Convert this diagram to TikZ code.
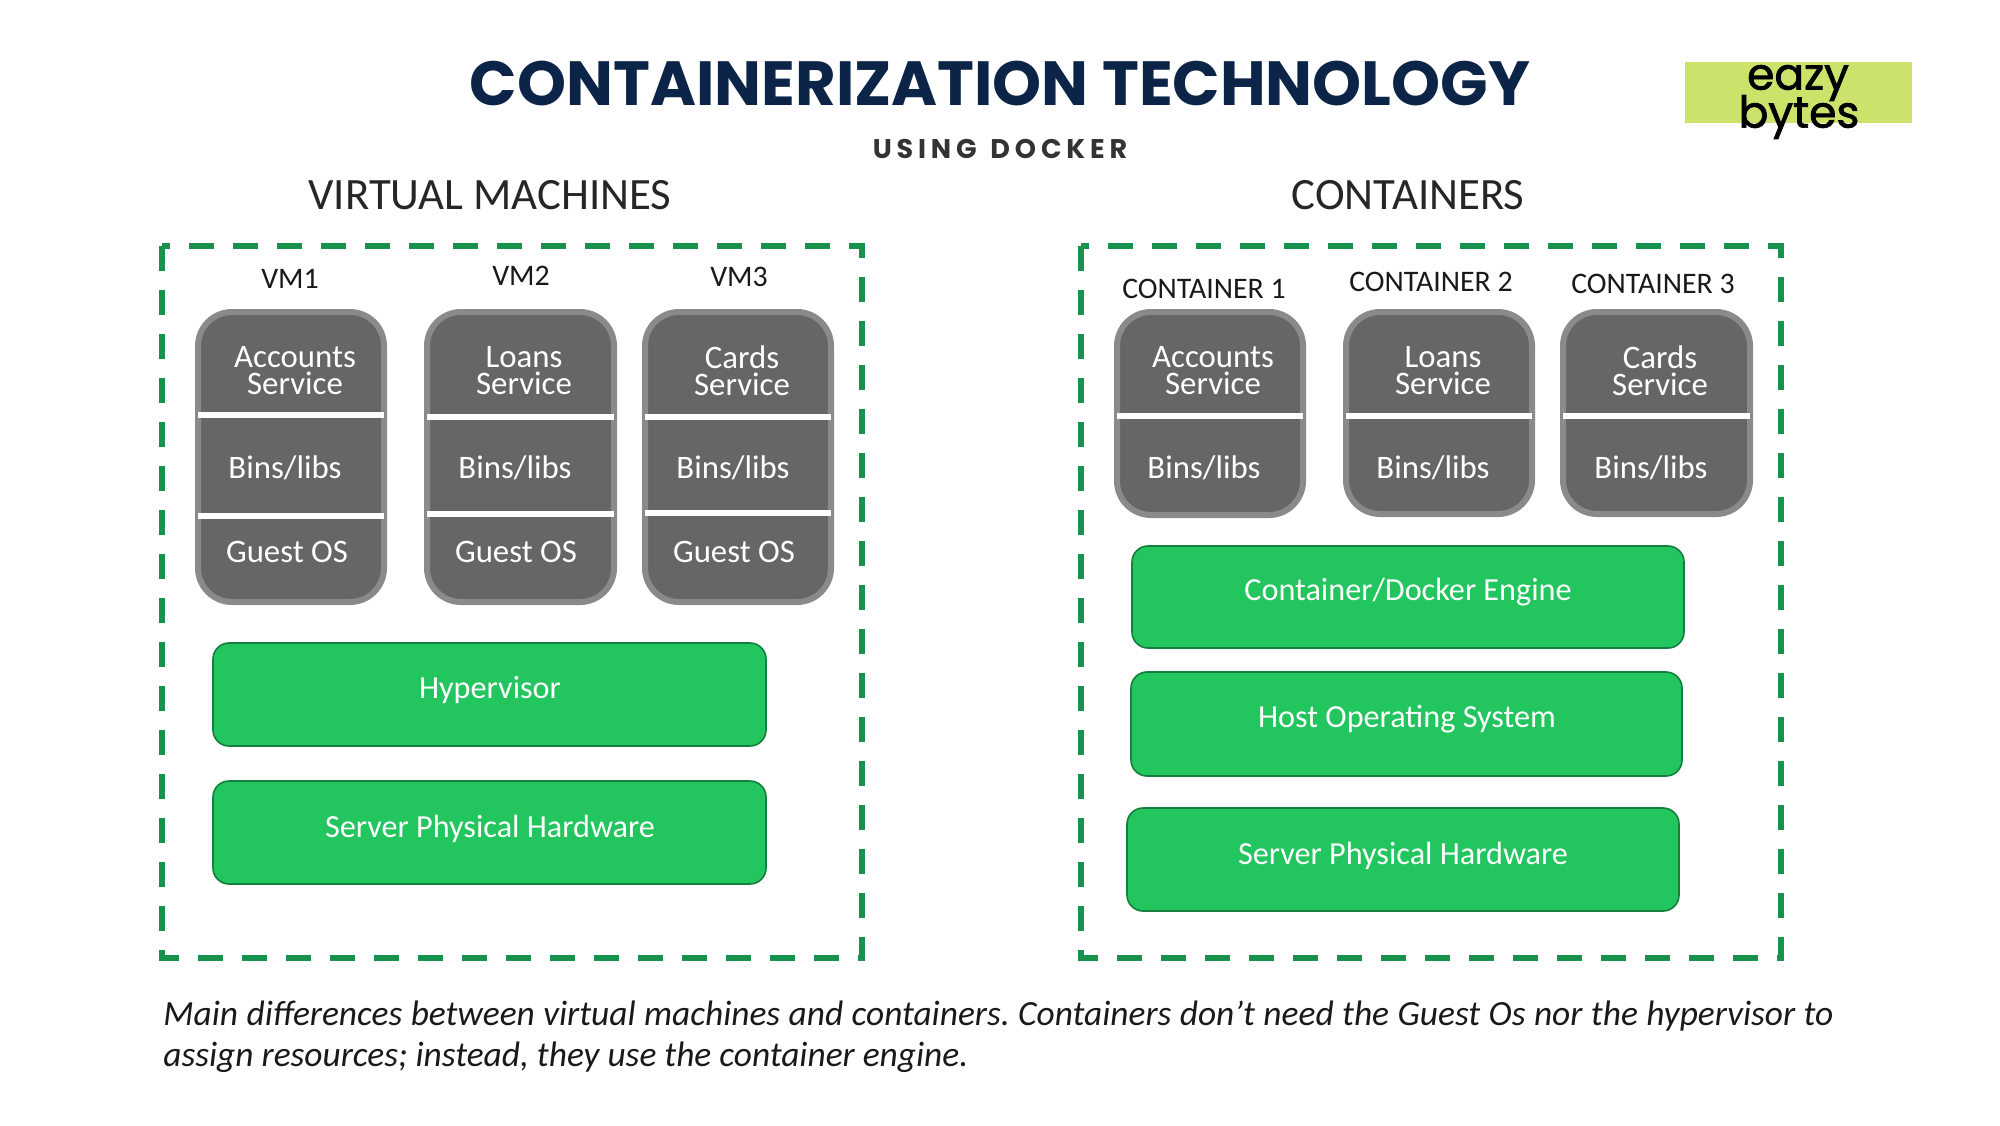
\documentclass[tikz,border=0pt]{standalone}
\usepackage{fontspec}
\usepackage{tikz}
\setmainfont{Carlito}
\newfontfamily\titlefont{Poppins}
\newfontfamily\subtitlefont[LetterSpace=18,WordSpace=1.3]{Poppins}
\newfontfamily\logofont[FakeBold=1.6]{Poppins}
\definecolor{navy}{HTML}{0B2447}
\definecolor{slate}{HTML}{666666}
\definecolor{slateline}{HTML}{8A8A8A}
\definecolor{leaf}{HTML}{22C55E}
\definecolor{leafline}{HTML}{15803D}
\definecolor{frame}{HTML}{18924C}
\definecolor{lime}{HTML}{CBE26B}
\tikzset{
  vmbox/.style={line width=3pt, draw=slateline, fill=slate, rounded corners=17pt},
  layerbox/.style={line width=0.8pt, draw=leafline, fill=leaf, rounded corners=8pt},
  dashframe/.style={line width=3pt, draw=frame, dash pattern=on 12.5pt off 9.5pt},
  divider/.style={line width=2.8pt, white},
  boxtext/.style={white, font=\fontsize{16.4}{13.5}\selectfont, align=center, inner sep=0pt},
  layertext/.style={white, font=\fontsize{16.1}{18}\selectfont, inner sep=0pt},
  headtext/.style={font=\fontsize{22.4}{26}\selectfont, text=black!85, inner sep=0pt},
  vmtext/.style={font=\fontsize{14.9}{18}\selectfont, text=black!90, inner sep=0pt},
}
\begin{document}
\begin{tikzpicture}[x=0.5pt,y=-0.5pt]
        \useasboundingbox (0,0) rectangle (2000,1125);

        %Title
        \node [text=navy, inner sep=0pt, font=\titlefont\bfseries\fontsize{31.2}{38}\selectfont] (title) at (1000,83) {CONTAINERIZATION TECHNOLOGY};
        \node [text=black!80, inner sep=0pt, font=\subtitlefont\bfseries\fontsize{13.5}{16}\selectfont] (subtitle) at (1000,149) {USING DOCKER};

        %Logo
        \fill [lime] (1685,62) rectangle (1912,123);
        \node [inner sep=0pt, font=\logofont\fontsize{22}{24}\selectfont] (logotop) at (1798,83) {eazy};
        \node [inner sep=0pt, font=\logofont\fontsize{22}{24}\selectfont] (logobottom) at (1799,117) {bytes};

        %Headings
        \node [headtext] (vmhead) at (490,195) {VIRTUAL MACHINES};
        \node [headtext] (containerhead) at (1408,195) {CONTAINERS};

        %Dashed frames
        \draw [dashframe] (162,246) rectangle (862,958);
        \draw [dashframe] (1081,246) rectangle (1781,958);

        %Virtual machine 1
        \node [vmtext] (vmone) at (290,279) {VM1};
        \draw [vmbox] (198,312) rectangle (384,602);
        \draw [divider] (198,415) -- (384,415);
        \draw [divider] (198,516) -- (384,516);
        \node [boxtext] (vmoneapp) at (295,371) {Accounts\\Service};
        \node [boxtext] (vmonelibs) at (285,468) {Bins/libs};
        \node [boxtext] (vmoneos) at (287,552) {Guest OS};

        %Virtual machine 2
        \node [vmtext] (vmtwo) at (521,276) {VM2};
        \draw [vmbox] (427,312) rectangle (614,602);
        \draw [divider] (427,417) -- (614,417);
        \draw [divider] (427,514) -- (614,514);
        \node [boxtext] (vmtwoapp) at (524,371) {Loans\\Service};
        \node [boxtext] (vmtwolibs) at (515,468) {Bins/libs};
        \node [boxtext] (vmtwoos) at (516,552) {Guest OS};

        %Virtual machine 3
        \node [vmtext] (vmthree) at (739,277) {VM3};
        \draw [vmbox] (645,312) rectangle (831,602);
        \draw [divider] (645,417) -- (831,417);
        \draw [divider] (645,513) -- (831,513);
        \node [boxtext] (vmthreeapp) at (742,371) {Cards\\Service};
        \node [boxtext] (vmthreelibs) at (733,468) {Bins/libs};
        \node [boxtext] (vmthreeos) at (734,552) {Guest OS};

        %Hypervisor and hardware
        \draw [layerbox] (213,643) rectangle (766,746);
        \node [layertext] (hypervisor) at (490,690) {Hypervisor};
        \draw [layerbox] (213,781) rectangle (766,884);
        \node [layertext] (vmhardware) at (490,829) {Server Physical Hardware};

        %Container 1
        \node [vmtext] (contone) at (1204,289) {CONTAINER 1};
        \draw [vmbox] (1117,312) rectangle (1303,515);
        \draw [divider] (1117,416) -- (1303,416);
        \node [boxtext] (contoneapp) at (1213,371) {Accounts\\Service};
        \node [boxtext] (contonelibs) at (1204,468) {Bins/libs};

        %Container 2
        \node [vmtext] (conttwo) at (1431,282) {CONTAINER 2};
        \draw [vmbox] (1346,312) rectangle (1532,514);
        \draw [divider] (1346,416) -- (1532,416);
        \node [boxtext] (conttwoapp) at (1443,371) {Loans\\Service};
        \node [boxtext] (conttwolibs) at (1433,468) {Bins/libs};

        %Container 3
        \node [vmtext] (contthree) at (1653,284) {CONTAINER 3};
        \draw [vmbox] (1563,312) rectangle (1750,514);
        \draw [divider] (1563,416) -- (1750,416);
        \node [boxtext] (contthreeapp) at (1660,371) {Cards\\Service};
        \node [boxtext] (contthreelibs) at (1651,468) {Bins/libs};

        %Engine, host and hardware
        \draw [layerbox] (1132,546) rectangle (1684,648);
        \node [layertext] (engine) at (1408,592) {Container/Docker Engine};
        \draw [layerbox] (1131,672) rectangle (1682,776);
        \node [layertext] (hostos) at (1407,719) {Host Operating System};
        \draw [layerbox] (1127,808) rectangle (1679,911);
        \node [layertext] (conthardware) at (1403,856) {Server Physical Hardware};

        %Caption
        \node [anchor=north west, inner sep=0pt, text width=835pt, align=justify, font=\itshape\fontsize{17.7}{20.5}\selectfont\frenchspacing, text=black!90] (caption) at (163,1001) {Main differences between virtual machines and containers. Containers don’t need the Guest Os nor the hypervisor to\linebreak assign resources; instead, they use the container engine.};
\end{tikzpicture}
\end{document}
